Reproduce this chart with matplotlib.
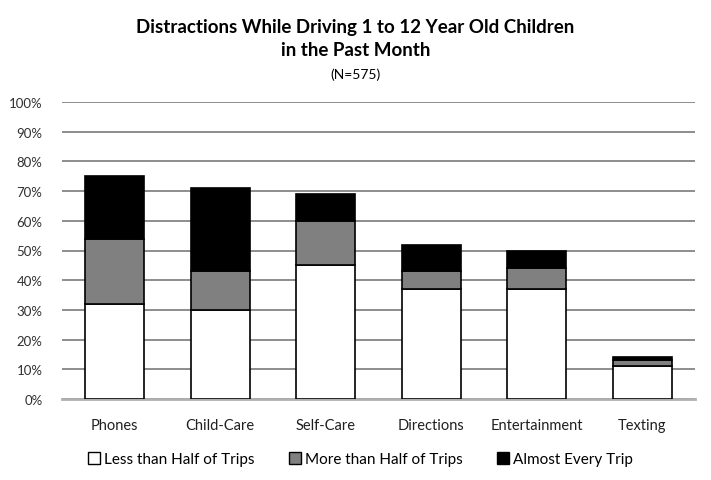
import numpy as np
import matplotlib.pyplot as plt
from matplotlib.patches import Patch

plt.rcParams['font.family'] = ['Lato', 'DejaVu Sans']

categories = ["Phones", "Child-Care", "Self-Care", "Directions", "Entertainment", "Texting"]
less_half = [32, 30, 45, 37, 37, 11]
more_half = [22, 13, 15, 6, 7, 2]
almost_every = [21, 28, 9, 9, 6, 1]
series_names = ["Less than Half of Trips", "More than Half of Trips", "Almost Every Trip"]
series_colors = ["white", "#808080", "black"]

fig = plt.figure(figsize=(7.11, 4.81), dpi=100)
ax = fig.add_axes([62 / 711, 1 - 400 / 481, 633 / 711, 297 / 481])

x = np.arange(len(categories))
bottom = np.zeros(len(categories))
for vals, name, col in zip([less_half, more_half, almost_every], series_names, series_colors):
    ax.bar(x, vals, bottom=bottom, width=0.56, color=col, edgecolor="black",
           linewidth=1.2, label=name, zorder=3)
    bottom += np.array(vals)

ax.set_xlim(-0.5, len(categories) - 0.5)
ax.set_ylim(0, 100)
ax.set_yticks(range(0, 101, 10))
ax.set_yticklabels([f"{v}%" for v in range(0, 101, 10)], fontsize=9.5, color="#303030")
ax.set_xticks(x)
ax.set_xticklabels(categories, fontsize=10.5, color="#202020")
ax.tick_params(axis="both", length=0)
ax.tick_params(axis="x", pad=14)
ax.tick_params(axis="y", pad=14)
ax.yaxis.grid(True, color="#7a7a7a", linewidth=1.2, zorder=0)
for s in ["top", "right", "left"]:
    ax.spines[s].set_visible(False)
ax.spines["bottom"].set_color("#b0b0b0")
ax.spines["bottom"].set_linewidth(2)

fig.text(0.5, 1 - 27 / 481, "Distractions While Driving 1 to 12 Year Old Children",
         ha="center", va="center", fontsize=13.5, fontweight="bold")
fig.text(0.5, 1 - 51 / 481, "in the Past Month", ha="center", va="center",
         fontsize=13.5, fontweight="bold")
fig.text(0.5, 1 - 75 / 481, "(N=575)", ha="center", va="center", fontsize=10)

handles = [Patch(facecolor=c, edgecolor="black", label=n) for c, n in zip(series_colors, series_names)]
fig.legend(handles=handles, loc="center", bbox_to_anchor=(0.507, 1 - 460 / 481), ncol=3,
           frameon=False, fontsize=11, handlelength=0.8, handleheight=0.8,
           handletextpad=0.3, columnspacing=2.2)

fig.savefig("out.png", dpi=100)
